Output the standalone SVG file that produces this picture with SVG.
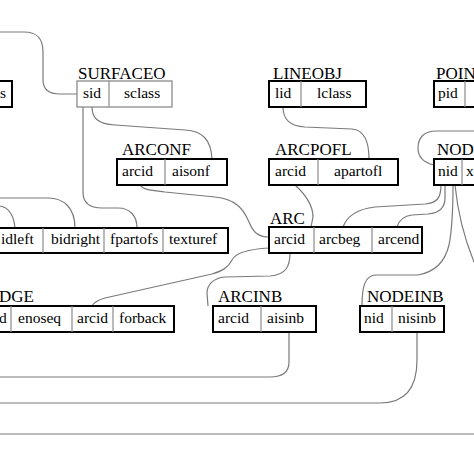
<svg xmlns="http://www.w3.org/2000/svg" width="474" height="474" viewBox="0 0 474 474">
<style>
.bg{fill:#fff}
.box{fill:#fff;stroke:#000;stroke-width:2}
.gbox{fill:#fff;stroke:#8a8a8a;stroke-width:1.3}
.div{stroke:#8a8a8a;stroke-width:1.2}
.title{font-family:"Liberation Serif",serif;font-size:17px;fill:#000}
.cell{font-family:"Liberation Serif",serif;font-size:15.5px;fill:#000}
.conn path{fill:none;stroke:#7a7a7a;stroke-width:1.2}
</style>
<rect class="bg" x="0" y="0" width="474" height="474"/>
<g id="connectors" class="conn">
<path d="M0,32 H24 C37,32 43,38 43,52 V80 C43,89 49,94 60,94 H77"/>
<path d="M83,107 V192 C83,203 89,208 102,208 H118 C130,208 137,216 137,228"/>
<path d="M92,107 C92,118 98,124 115,125 L185,130 C203,131 211,140 212,159"/>
<path d="M140,185 C143,190 150,190 165,192 L215,197 C235,199 243,208 249,222 C253,232 258,237 269,237"/>
<path d="M283,107 C283,120 290,126 305,127 L352,129 C364,130 369,140 369,159"/>
<path d="M295,185 C306,195 313,205 313,217 L311,227"/>
<path d="M474,131 H436 C424,131 418,138 418,148 C418,158 425,163 434,165"/>
<path d="M441,185 C441,198 437,203 425,204 L375,207 C358,209 347,216 343,227"/>
<path d="M445,185 V198 C445,208 439,213 428,214 L412,215 C404,216 399,220 397,227"/>
<path d="M453,185 C453,205 452,230 449,245 C445,262 435,272 418,275 L375,275 C366,276 362,284 362,306"/>
<path d="M455,185 C458,215 465,240 474,262"/>
<path d="M269,248 C250,249 236,252 232,260 C228,268 222,271 212,274 L105,298 C98,300 94,302 92,306"/>
<path d="M290,253 C290,266 286,275 270,276 L225,277 C213,278 207,285 207,293 L208,306"/>
<path d="M289,332 V362 C289,372 283,377 270,377 H0"/>
<path d="M417,332 V360 C417,388 405,403 380,403 H0"/>
<path d="M0,434 H474"/>
<path d="M0,198 H48 C64,198 75,208 75,228"/>
<path d="M0,206 C8,207 14,215 15,228"/>
</g>
<g id="left-table">
<rect class="box" x="-4" y="81" width="16" height="26"/>
<text class="cell" x="0" y="97.5">s</text>
</g>
<g id="SURFACEO">
<text class="title" x="78" y="79">SURFACEO</text>
<rect class="gbox" x="77" y="81" width="95" height="26"/>
<line class="div" x1="109" y1="81" x2="109" y2="107"/>
<text class="cell" x="83" y="97.5">sid</text>
<text class="cell" x="124" y="97.5">sclass</text>
</g>
<g id="LINEOBJ">
<text class="title" x="273" y="79">LINEOBJ</text>
<rect class="box" x="269" y="81" width="97" height="26"/>
<line class="div" x1="301" y1="81" x2="301" y2="107"/>
<text class="cell" x="275" y="97.5">lid</text>
<text class="cell" x="317" y="97.5">lclass</text>
</g>
<g id="POINT">
<text class="title" x="436" y="79">POIN</text>
<rect class="box" x="434" y="81" width="44" height="26"/>
<line class="div" x1="465" y1="81" x2="465" y2="107"/>
<text class="cell" x="438" y="97.5">pid</text>
</g>
<g id="ARCONF">
<text class="title" x="122" y="155">ARCONF</text>
<rect class="box" x="117" y="159" width="110" height="26"/>
<line class="div" x1="165" y1="159" x2="165" y2="185"/>
<text class="cell" x="122" y="175.5">arcid</text>
<text class="cell" x="172" y="175.5">aisonf</text>
</g>
<g id="ARCPOFL">
<text class="title" x="275" y="155">ARCPOFL</text>
<rect class="box" x="269" y="159" width="129" height="26"/>
<line class="div" x1="318" y1="159" x2="318" y2="185"/>
<text class="cell" x="275" y="175.5">arcid</text>
<text class="cell" x="334" y="175.5">apartofl</text>
</g>
<g id="NODE">
<text class="title" x="437" y="155">NOD</text>
<rect class="box" x="434" y="159" width="44" height="26"/>
<line class="div" x1="462" y1="159" x2="462" y2="185"/>
<text class="cell" x="438" y="175.5">nid</text>
<text class="cell" x="466" y="175.5">x</text>
</g>
<g id="FACE">
<rect class="box" x="-4" y="228" width="232" height="25"/>
<line class="div" x1="43" y1="228" x2="43" y2="253"/>
<line class="div" x1="104" y1="228" x2="104" y2="253"/>
<line class="div" x1="163" y1="228" x2="163" y2="253"/>
<text class="cell" x="1" y="244">idleft</text>
<text class="cell" x="51" y="244">bidright</text>
<text class="cell" x="110" y="244">fpartofs</text>
<text class="cell" x="169" y="244">texturef</text>
</g>
<g id="ARC">
<text class="title" x="270" y="224">ARC</text>
<rect class="box" x="269" y="227" width="153" height="26"/>
<line class="div" x1="314" y1="227" x2="314" y2="253"/>
<line class="div" x1="372" y1="227" x2="372" y2="253"/>
<text class="cell" x="274" y="243.5">arcid</text>
<text class="cell" x="319" y="243.5">arcbeg</text>
<text class="cell" x="378" y="243.5">arcend</text>
</g>
<g id="EDGE">
<text class="title" x="-1" y="302">DGE</text>
<rect class="box" x="-4" y="306" width="178" height="26"/>
<line class="div" x1="11" y1="306" x2="11" y2="332"/>
<line class="div" x1="72" y1="306" x2="72" y2="332"/>
<line class="div" x1="113" y1="306" x2="113" y2="332"/>
<text class="cell" x="-1" y="322.5">d</text>
<text class="cell" x="18" y="322.5">enoseq</text>
<text class="cell" x="77" y="322.5">arcid</text>
<text class="cell" x="119" y="322.5">forback</text>
</g>
<g id="ARCINB">
<text class="title" x="218" y="302">ARCINB</text>
<rect class="box" x="213" y="306" width="103" height="26"/>
<line class="div" x1="261" y1="306" x2="261" y2="332"/>
<text class="cell" x="218" y="322.5">arcid</text>
<text class="cell" x="267" y="322.5">aisinb</text>
</g>
<g id="NODEINB">
<text class="title" x="367" y="302">NODEINB</text>
<rect class="box" x="360" y="306" width="84" height="26"/>
<line class="div" x1="392" y1="306" x2="392" y2="332"/>
<text class="cell" x="364" y="322.5">nid</text>
<text class="cell" x="398" y="322.5">nisinb</text>
</g>
</svg>
